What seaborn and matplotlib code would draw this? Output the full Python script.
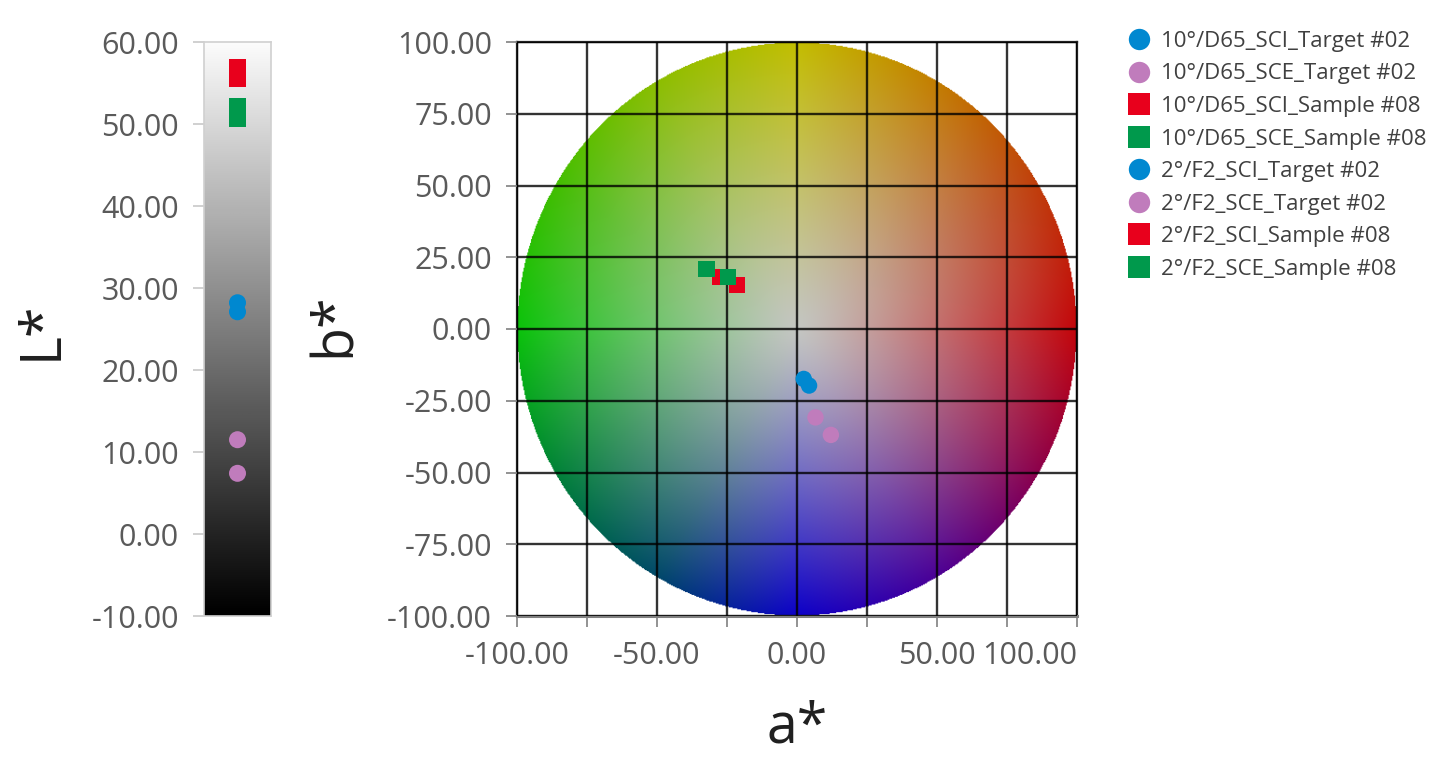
import numpy as np
import pandas as pd
import matplotlib
matplotlib.use('Agg')
import matplotlib.pyplot as plt
import seaborn as sns

# series shown in the legend (same order as the reference)
series = ['10°/D65_SCI_Target #02', '10°/D65_SCE_Target #02',
          '10°/D65_SCI_Sample #08', '10°/D65_SCE_Sample #08',
          '2°/F2_SCI_Target #02', '2°/F2_SCE_Target #02',
          '2°/F2_SCI_Sample #08', '2°/F2_SCE_Sample #08']
L_vals = [28.2, 11.5, 56.9, 52.1, 27.1, 7.4, 55.5, 50.7]
a_vals = [2.4, 6.6, -27.6, -32.3, 4.3, 12.1, -21.4, -24.6]
b_vals = [-17.4, -30.8, 18.2, 20.9, -19.7, -36.9, 15.4, 18.2]

L_ticks = [-10, 0, 10, 20, 30, 40, 50, 60]
ab_ticks = [-100, -75, -50, -25, 0, 25, 50, 75, 100]
a_labelled = [-100, -50, 0, 50, 100]

series_colors = ['#0088d0', '#c07cbc', '#e8001c', '#00994c',
                 '#0088d0', '#c07cbc', '#e8001c', '#00994c']
series_markers = ['o', 'o', 's', 's', 'o', 'o', 's', 's']

# hue wheel used for the a*/b* background (angle in degrees, rgb)
wheel_angles = [0, 30, 60, 90, 120, 150, 180, 210, 240, 270, 300, 330, 360]
wheel_rgb = [(195, 5, 10), (192, 60, 10), (195, 125, 0), (195, 190, 0),
             (140, 190, 0), (65, 190, 0), (10, 195, 10), (0, 130, 55),
             (0, 72, 105), (12, 0, 200), (75, 0, 150), (140, 0, 75),
             (195, 5, 10)]
center_rgb = (196, 198, 194)

df = pd.DataFrame({'series': series, 'L': L_vals, 'a': a_vals, 'b': b_vals,
                   'x': [0] * len(series)})

sns.set_style('white')
plt.rcParams['font.family'] = ['Open Sans', 'DejaVu Sans']
tick_col = '#5a5a5a'

fig = plt.figure(figsize=(14.4, 7.62), dpi=100)
axL = fig.add_axes([204 / 1440, 1 - 616 / 762, 67 / 1440, 574 / 762])
axAB = fig.add_axes([517 / 1440, 1 - 616 / 762, 560 / 1440, 574 / 762])

palette = dict(zip(series, series_colors))
markers = dict(zip(series, series_markers))

# ---- L* bar ----
grad = np.linspace(0, 1, 256).reshape(-1, 1) * 0.985
axL.imshow(grad, cmap='gray', vmin=0, vmax=1, origin='lower',
           extent=[-1, 1, -10, 60], aspect='auto', zorder=0)
sns.scatterplot(data=df, x='x', y='L', hue='series', style='series',
                palette=palette, markers=markers, s=150, linewidth=0,
                legend=False, ax=axL, zorder=3)
axL.set_xlim(-1, 1)
axL.set_ylim(-10, 60)
axL.set_xticks([])
axL.set_yticks(L_ticks)
axL.set_yticklabels([f'{v:.2f}' for v in L_ticks])
axL.tick_params(axis='y', left=True, length=8, width=1.2, color='#c8c8c8',
                labelsize=22, labelcolor=tick_col, pad=10)
axL.set_xlabel('')
axL.set_ylabel('')
for sp in axL.spines.values():
    sp.set_color('#d0d0d0')
    sp.set_linewidth(1.2)

# ---- a*/b* plane ----
n = 600
g = np.linspace(-100, 100, n)
A, B = np.meshgrid(g, g)
R = np.hypot(A, B)
ang = np.degrees(np.arctan2(B, A)) % 360
wr = np.array(wheel_rgb) / 255.0
edge = np.stack([np.interp(ang, wheel_angles, wr[:, k]) for k in range(3)], axis=-1)
t = np.clip(R / 100, 0, 1)[..., None] ** 1.15
img = np.array(center_rgb) / 255.0 * (1 - t) + edge * t
alpha = (R <= 100).astype(float)[..., None]
rgba = np.concatenate([img, alpha], axis=-1)
axAB.imshow(rgba, origin='lower', extent=[-100, 100, -100, 100],
            aspect='auto', interpolation='bilinear', zorder=0)

sns.scatterplot(data=df, x='a', y='b', hue='series', style='series',
                palette=palette, markers=markers, s=140, linewidth=0,
                legend='full', ax=axAB, zorder=3)
axAB.set_xlim(-100, 100)
axAB.set_ylim(-100, 100)
axAB.set_xticks(ab_ticks)
axAB.set_xticklabels([f'{v:.2f}' if v in a_labelled else '' for v in ab_ticks])
axAB.set_yticks(ab_ticks)
axAB.set_yticklabels([f'{v:.2f}' for v in ab_ticks])
axAB.xaxis.get_ticklabels()[-1].set_horizontalalignment('right')
axAB.tick_params(axis='both', bottom=True, left=True, length=8, width=1.2,
                 color='#808080', labelsize=22, labelcolor=tick_col, pad=10)
axAB.grid(True, color='black', linewidth=1.7, alpha=0.8)
axAB.set_axisbelow(False)
axAB.set_xlabel('')
axAB.set_ylabel('')
for sp in axAB.spines.values():
    sp.set_color('#202020')
    sp.set_linewidth(1.6)
axAB.spines['bottom'].set_color('#808080')
axAB.spines['bottom'].set_linewidth(2.2)

sns.move_legend(axAB, loc='upper left', bbox_to_anchor=(1117 / 1440, 1 - 22 / 762),
                bbox_transform=fig.transFigure, frameon=False, title=None,
                fontsize=16, labelspacing=0.52, handletextpad=0.4,
                handlelength=1.2, borderaxespad=0, markerscale=1.3)
for txt in axAB.get_legend().get_texts():
    txt.set_color('#404040')

# axis titles
fig.text(42 / 1440, 1 - 330 / 762, 'L*', rotation=90, fontsize=40,
         color='#202020', ha='center', va='center')
fig.text(335 / 1440, 1 - 325 / 762, 'b*', rotation=90, fontsize=40,
         color='#202020', ha='center', va='center')
fig.text(797 / 1440, 1 - 728 / 762, 'a*', fontsize=40,
         color='#202020', ha='center', va='center')

fig.savefig('out.png', dpi=100)
